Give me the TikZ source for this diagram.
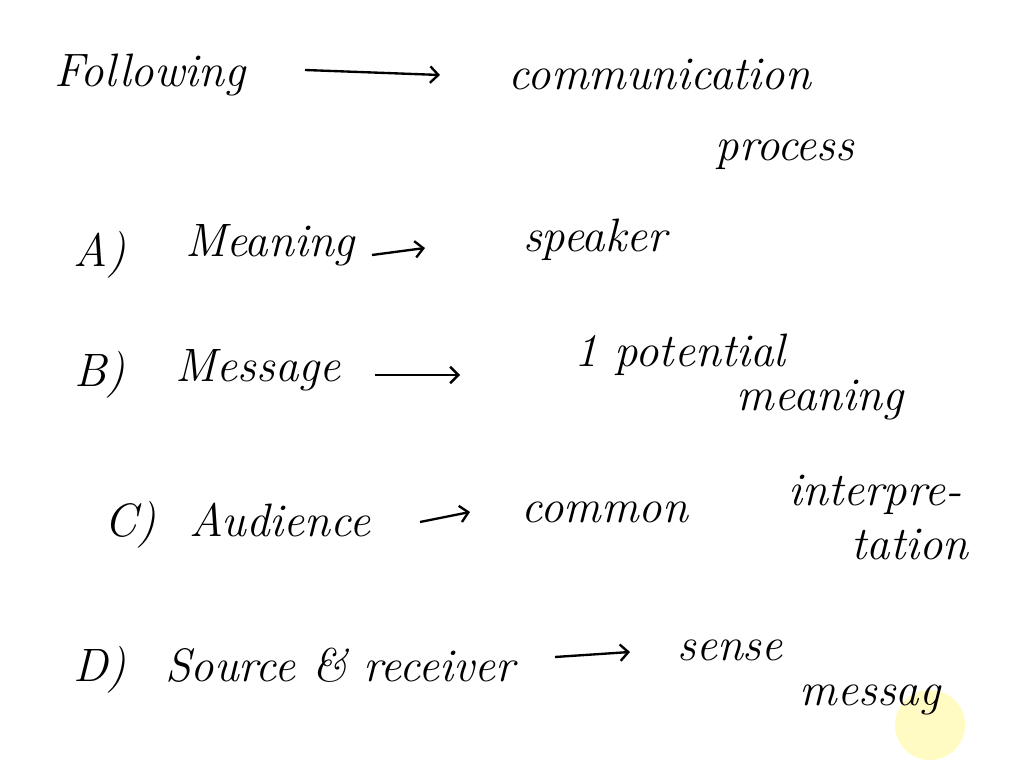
\documentclass[tikz,border=0pt]{standalone}
\usetikzlibrary{arrows.meta}
\begin{document}
\begin{tikzpicture}[x=0.03cm,y=-0.03cm,
 hw/.style={font=\fontsize{40}{46}\selectfont\itshape, inner sep=1pt},
 ar/.style={line width=2pt,-{Straight Barb[length=7pt]}}]
\fill[white] (0,0) rectangle (1024,768);
\useasboundingbox (0,0) rectangle (1024,768);
\fill[yellow!30, opacity=0.8] (930,725) circle (35);
\node[hw] (fol) at (150,75) {Following};
\node[hw] (com) at (660,75) {communication};
\node[hw] (pro) at (785,155) {process};
\coordinate (f1) at (305,70); \coordinate (f2) at (440,75);
\draw[ar] (f1) -- (f2);
\node[hw] (A) at (100,255) {A)};
\node[hw] (mea) at (270,245) {Meaning};
\node[hw] (spk) at (595,240) {speaker};
\coordinate (a1) at (372,255); \coordinate (a2) at (425,248);
\draw[ar] (a1) -- (a2);
\node[hw] (B) at (100,375) {B)};
\node[hw] (msg) at (258,370) {Message};
\node[hw] (pot) at (680,355) {1 potential};
\node[hw] (mn) at (820,400) {meaning};
\coordinate (b1) at (375,375); \coordinate (b2) at (460,375);
\draw[ar] (b1) -- (b2);
\node[hw] (C) at (130,525) {C)};
\node[hw] (aud) at (280,520) {Audience};
\node[hw] (cmn) at (605,512) {common};
\node[hw] (int) at (875,495) {interpre-};
\node[hw] (tat) at (910,545) {tation};
\coordinate (c1) at (420,522); \coordinate (c2) at (470,512);
\draw[ar] (c1) -- (c2);
\node[hw] (D) at (100,670) {D)};
\node[hw] (src) at (340,665) {Source \& receiver};
\node[hw] (sen) at (730,650) {sense};
\node[hw] (mss) at (870,700) {messag};
\coordinate (d1) at (555,657); \coordinate (d2) at (630,652);
\draw[ar] (d1) -- (d2);
\end{tikzpicture}
\end{document}
